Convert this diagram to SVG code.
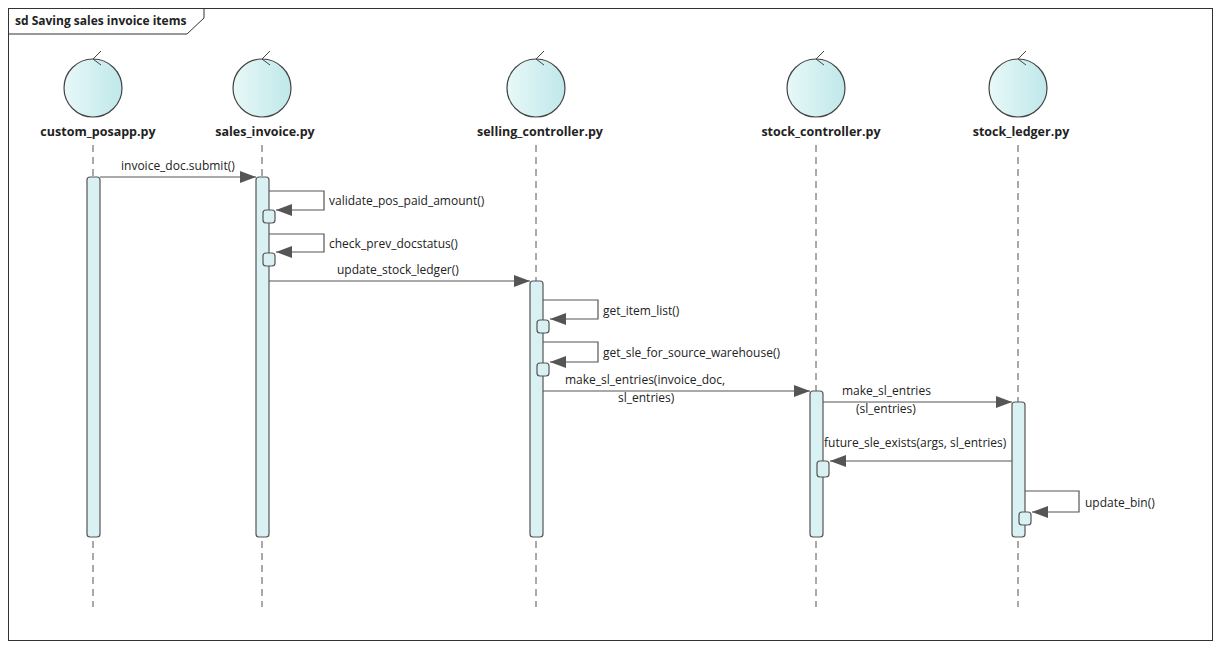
<svg xmlns="http://www.w3.org/2000/svg" width="1221" height="650" viewBox="0 0 1221 650">
<defs>
<linearGradient id="g" x1="0" y1="0" x2="1" y2="0"><stop offset="0" stop-color="#e8f8f8"/><stop offset="1" stop-color="#bfe8ea"/></linearGradient>
<marker id="a" markerWidth="16" markerHeight="12" refX="16" refY="6" orient="auto" markerUnits="userSpaceOnUse"><path d="M0,0 L16,6 L0,12 Z" fill="#555"/></marker>
<style>
.t{font-family:"Open Sans","Liberation Sans",sans-serif;font-size:12px;fill:#222}
.b{font-family:"Open Sans","Liberation Sans",sans-serif;font-size:12.5px;font-weight:bold;fill:#222;text-anchor:middle}
.ll{stroke:#555;stroke-dasharray:7,5;fill:none}
.act{fill:#d9f1f2;stroke:#555;stroke-width:1.2}
.m{stroke:#555;stroke-width:1.2;fill:none;marker-end:url(#a)}
.c{fill:url(#g);stroke:#444;stroke-width:1.2}
</style>
</defs>
<rect width="1221" height="650" fill="#fff"/>
<rect x="8.5" y="8.5" width="1204" height="632" fill="none" stroke="#333"/>
<path d="M8.5,8.5 H204 V18 L187,34 H8.5" fill="none" stroke="#333"/>
<text x="15" y="25" class="t" style="font-weight:bold">sd Saving sales invoice items</text>
<g id="custom_posapp"><line class="ll" x1="93" y1="145" x2="93" y2="607"/><circle class="c" cx="93" cy="88" r="29"/><path d="M93,59 L101,51 M93,59 L101,65" stroke="#444" fill="none"/><text class="b" x="98" y="136">custom_posapp.py</text><rect class="act" x="87" y="177" width="13" height="360" rx="3"/></g>
<g id="sales_invoice"><line class="ll" x1="262" y1="145" x2="262" y2="607"/><circle class="c" cx="262" cy="88" r="29"/><path d="M262,59 L270,51 M262,59 L270,65" stroke="#444" fill="none"/><text class="b" x="265" y="136">sales_invoice.py</text><rect class="act" x="256" y="177" width="13" height="360" rx="3"/><rect class="act" x="263" y="210" width="12" height="13" rx="3"/><rect class="act" x="263" y="253" width="12" height="13" rx="3"/></g>
<g id="selling_controller"><line class="ll" x1="536" y1="145" x2="536" y2="607"/><circle class="c" cx="536" cy="88" r="29"/><path d="M536,59 L544,51 M536,59 L544,65" stroke="#444" fill="none"/><text class="b" x="540" y="136">selling_controller.py</text><rect class="act" x="530" y="281" width="13" height="256" rx="3"/><rect class="act" x="537" y="320" width="12" height="13" rx="3"/><rect class="act" x="537" y="363" width="12" height="13" rx="3"/></g>
<g id="stock_controller"><line class="ll" x1="816" y1="145" x2="816" y2="607"/><circle class="c" cx="816" cy="88" r="29"/><path d="M816,59 L824,51 M816,59 L824,65" stroke="#444" fill="none"/><text class="b" x="821" y="136">stock_controller.py</text><rect class="act" x="810" y="391" width="13" height="146" rx="3"/><rect class="act" x="817" y="461" width="12" height="16" rx="3"/></g>
<g id="stock_ledger"><line class="ll" x1="1018" y1="145" x2="1018" y2="607"/><circle class="c" cx="1018" cy="88" r="29"/><path d="M1018,59 L1026,51 M1018,59 L1026,65" stroke="#444" fill="none"/><text class="b" x="1021" y="136">stock_ledger.py</text><rect class="act" x="1012" y="402" width="13" height="135" rx="3"/><rect class="act" x="1019" y="512" width="12" height="13" rx="3"/></g>
<g id="connectors">
<line class="m" x1="100" y1="177" x2="256" y2="177"/><text class="t" x="121" y="170">invoice_doc.submit()</text>
<path class="m" d="M269,191 H324 V210 H276"/><text class="t" x="329" y="205">validate_pos_paid_amount()</text>
<path class="m" d="M269,234 H324 V252 H276"/><text class="t" x="329" y="248">check_prev_docstatus()</text>
<line class="m" x1="269" y1="281" x2="530" y2="281"/><text class="t" x="337" y="274">update_stock_ledger()</text>
<path class="m" d="M543,300 H598 V319 H550"/><text class="t" x="603" y="315">get_item_list()</text>
<path class="m" d="M543,342 H598 V362 H550"/><text class="t" x="603" y="357">get_sle_for_source_warehouse()</text>
<line class="m" x1="543" y1="391" x2="810" y2="391"/><text class="t" x="565" y="384">make_sl_entries(invoice_doc,</text><text class="t" x="618" y="402">sl_entries)</text>
<line class="m" x1="823" y1="402" x2="1012" y2="402"/><rect x="855" y="403" width="66" height="13" fill="#fff"/><rect x="840" y="395" width="96" height="6" fill="#fff"/><text class="t" x="842" y="395">make_sl_entries</text><text class="t" x="856" y="413">(sl_entries)</text>
<line class="m" x1="1012" y1="461" x2="830" y2="461"/><text class="t" x="824" y="447">future_sle_exists(args, sl_entries)</text>
<path class="m" d="M1025,491 H1079 V512 H1032"/><text class="t" x="1085" y="507">update_bin()</text>
</g>
</svg>
